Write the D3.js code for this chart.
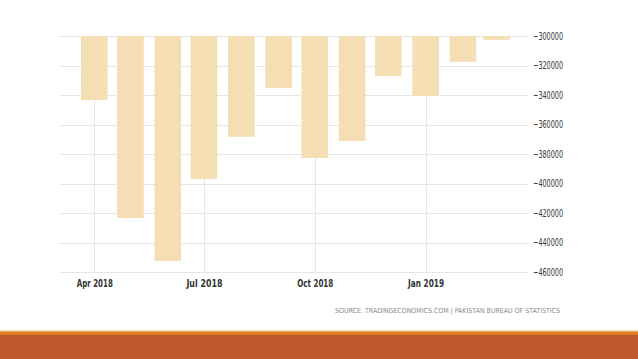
<!DOCTYPE html>
<html>
<head>
<meta charset="utf-8">
<script src="https://cdn.jsdelivr.net/npm/d3@7"></script>
<style>
  html, body { margin: 0; padding: 0; background: #ffffff; }
  svg { display: block; }
</style>
</head>
<body>
<svg id="chart" width="638" height="359"></svg>
<script>
// ---- data ----
const months = ["2018-04-01","2018-05-01","2018-06-01","2018-07-01","2018-08-01","2018-09-01",
                "2018-10-01","2018-11-01","2018-12-01","2019-01-01","2019-02-01","2019-03-01"];
const values = [-343400, -423400, -452500, -396900, -368300, -335200,
                -382700, -371200, -327000, -340700, -317500, -302600];
const yTicks = [-300000, -320000, -340000, -360000, -380000, -400000, -420000, -440000, -460000];
const xTickDates = ["2018-04-01", "2018-07-01", "2018-10-01", "2019-01-01"];
const xTickLabels = ["Apr 2018", "Jul 2018", "Oct 2018", "Jan 2019"];
const sourceText = "SOURCE: TRADINGECONOMICS.COM | PAKISTAN BUREAU OF STATISTICS";

// ---- layout ----
const svg = d3.select("#chart");
const plotLeft = 60, plotRight = 528, plotTop = 36, plotBottom = 272;
const parse = d3.utcParse("%Y-%m-%d");
const dates = months.map(parse);

const x = d3.scaleUtc()
  .domain([parse("2018-04-01"), parse("2019-03-01")])
  .range([94.3, 496.7]);
const y = d3.scaleLinear()
  .domain([-300000, -460000])
  .range([plotTop, plotBottom]);
const barW = 26.6;

// horizontal gridlines
svg.append("g").selectAll("line").data(yTicks).join("line")
  .attr("x1", plotLeft).attr("x2", plotRight)
  .attr("y1", d => Math.round(y(d)) + 0.5).attr("y2", d => Math.round(y(d)) + 0.5)
  .attr("stroke", "#e6e6e6").attr("stroke-width", 1);

// vertical gridlines at x ticks
svg.append("g").selectAll("line").data(xTickDates.map(parse)).join("line")
  .attr("x1", d => Math.round(x(d)) + 0.5).attr("x2", d => Math.round(x(d)) + 0.5)
  .attr("y1", plotTop).attr("y2", plotBottom + 1)
  .attr("stroke", "#e6e6e6").attr("stroke-width", 1);

// bars
svg.append("g").selectAll("rect").data(values).join("rect")
  .attr("x", (d, i) => x(dates[i]) - barW / 2)
  .attr("width", barW)
  .attr("y", y(-300000))
  .attr("height", d => y(d) - y(-300000))
  .attr("fill", "#f5deb3");

// y axis labels (right side)
const yAxis = d3.axisRight(y).tickValues(yTicks).tickSize(0).tickPadding(0)
  .tickFormat(d3.format("d"));
const gy = svg.append("g").attr("transform", `translate(${plotRight + 5},0)`).call(yAxis);
gy.select(".domain").remove();
gy.selectAll("text")
  .attr("font-family", "'DejaVu Sans Condensed', 'Liberation Sans', sans-serif")
  .attr("font-size", "10.5px")
  .attr("fill", "#333333")
  .attr("textLength", 30)
  .attr("lengthAdjust", "spacingAndGlyphs");

// x axis labels
const xAxis = d3.axisBottom(x).tickValues(xTickDates.map(parse)).tickSize(0).tickPadding(0)
  .tickFormat((d, i) => xTickLabels[i]);
const gx = svg.append("g").attr("transform", `translate(0,${plotBottom + 8})`).call(xAxis);
gx.select(".domain").remove();
gx.selectAll("text")
  .attr("font-family", "'DejaVu Sans Condensed', 'Liberation Sans', sans-serif")
  .attr("font-weight", "bold")
  .attr("font-size", "10.5px")
  .attr("fill", "#333333")
  .attr("textLength", 36)
  .attr("lengthAdjust", "spacingAndGlyphs");

// source text
svg.append("text")
  .attr("x", 560).attr("y", 313)
  .attr("text-anchor", "end")
  .attr("font-family", "'DejaVu Sans', sans-serif")
  .attr("font-size", "7px")
  .attr("fill", "#8a8a8a")
  .attr("textLength", 225)
  .attr("lengthAdjust", "spacingAndGlyphs")
  .text(sourceText);

// bottom decorative band
svg.append("rect").attr("x", 0).attr("y", 330).attr("width", 638).attr("height", 1.5).attr("fill", "#f3dba8");
svg.append("rect").attr("x", 0).attr("y", 331.5).attr("width", 638).attr("height", 3.5).attr("fill", "#e27d22");
svg.append("rect").attr("x", 0).attr("y", 335).attr("width", 638).attr("height", 24).attr("fill", "#bd582c");
</script>
</body>
</html>
